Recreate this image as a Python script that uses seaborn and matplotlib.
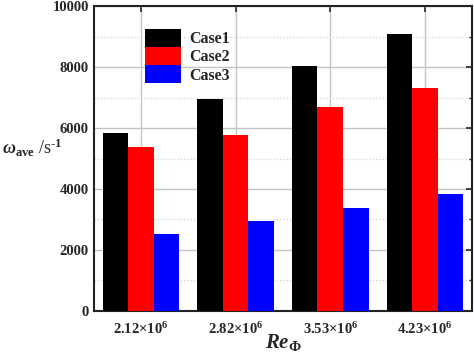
import matplotlib
matplotlib.use("Agg")
import matplotlib.pyplot as plt
from matplotlib.ticker import MultipleLocator
import pandas as pd
import seaborn as sns

sns.set_style("white")
plt.rcParams['font.family'] = ['Liberation Serif', 'DejaVu Serif']
plt.rcParams['font.weight'] = 'bold'
plt.rcParams['mathtext.fontset'] = 'custom'
plt.rcParams['mathtext.rm'] = 'Liberation Serif:bold'
plt.rcParams['mathtext.it'] = 'Liberation Serif:italic:bold'
plt.rcParams['mathtext.bf'] = 'Liberation Serif:bold'

reynolds = ["2.12×10$^{6}$", "2.82×10$^{6}$", "3.53×10$^{6}$", "4.23×10$^{6}$"]
case1 = [5830, 6950, 8040, 9090]
case2 = [5390, 5760, 6690, 7300]
case3 = [2520, 2940, 3390, 3830]
cases = ["Case1", "Case2", "Case3"]
colors = ["#000000", "#ff0000", "#0000ff"]

df = pd.DataFrame({
    "Re": reynolds * 3,
    "omega": case1 + case2 + case3,
    "case": [c for c in cases for _ in reynolds],
})

fig = plt.figure(figsize=(4.74, 3.57), dpi=100)
ax = fig.add_axes([0.198, 0.129, 0.798, 0.854])

sns.barplot(data=df, x="Re", y="omega", hue="case", palette=colors,
            width=0.81, gap=0, saturation=1, linewidth=0, edgecolor='none',
            ax=ax, zorder=3)

ax.set_ylim(0, 10000)
ax.yaxis.set_major_locator(MultipleLocator(2000))
ax.yaxis.set_minor_locator(MultipleLocator(1000))
ax.xaxis.grid(True, which='major', color='#c4c4c4', linewidth=1.0)
ax.yaxis.grid(True, which='major', color='#c4c4c4', linewidth=1.0)
ax.yaxis.grid(True, which='minor', color='#d4d4d4', linestyle=':', linewidth=0.9)
ax.set_axisbelow(True)

for s in ax.spines.values():
    s.set_visible(True)
    s.set_linewidth(1.5)
    s.set_color('#222222')
ax.tick_params(which='both', direction='in', top=True, right=True, labelsize=10.5)
ax.tick_params(which='major', length=4, width=1.2)
ax.tick_params(which='minor', length=2.5, width=1)
ax.tick_params(axis='x', which='minor', bottom=False, top=False)
ax.tick_params(axis='x', pad=7)

ax.set_xlabel(r"$Re_{\Phi}$", fontsize=15, labelpad=-3)
ax.set_ylabel(r"$\omega_{\rm ave}$ /s$^{\text{-1}}$", fontsize=13, rotation=0)
ax.yaxis.set_label_coords(-0.163, 0.5)

ax.legend(loc='upper left', bbox_to_anchor=(0.11, 0.955), frameon=False,
          prop={'family': 'Liberation Serif', 'weight': 'bold', 'size': 11.5},
          handlelength=2.25, handleheight=1.3, handletextpad=0.5, labelspacing=0.0,
          borderaxespad=0.2)

fig.savefig("out.png", dpi=100)
